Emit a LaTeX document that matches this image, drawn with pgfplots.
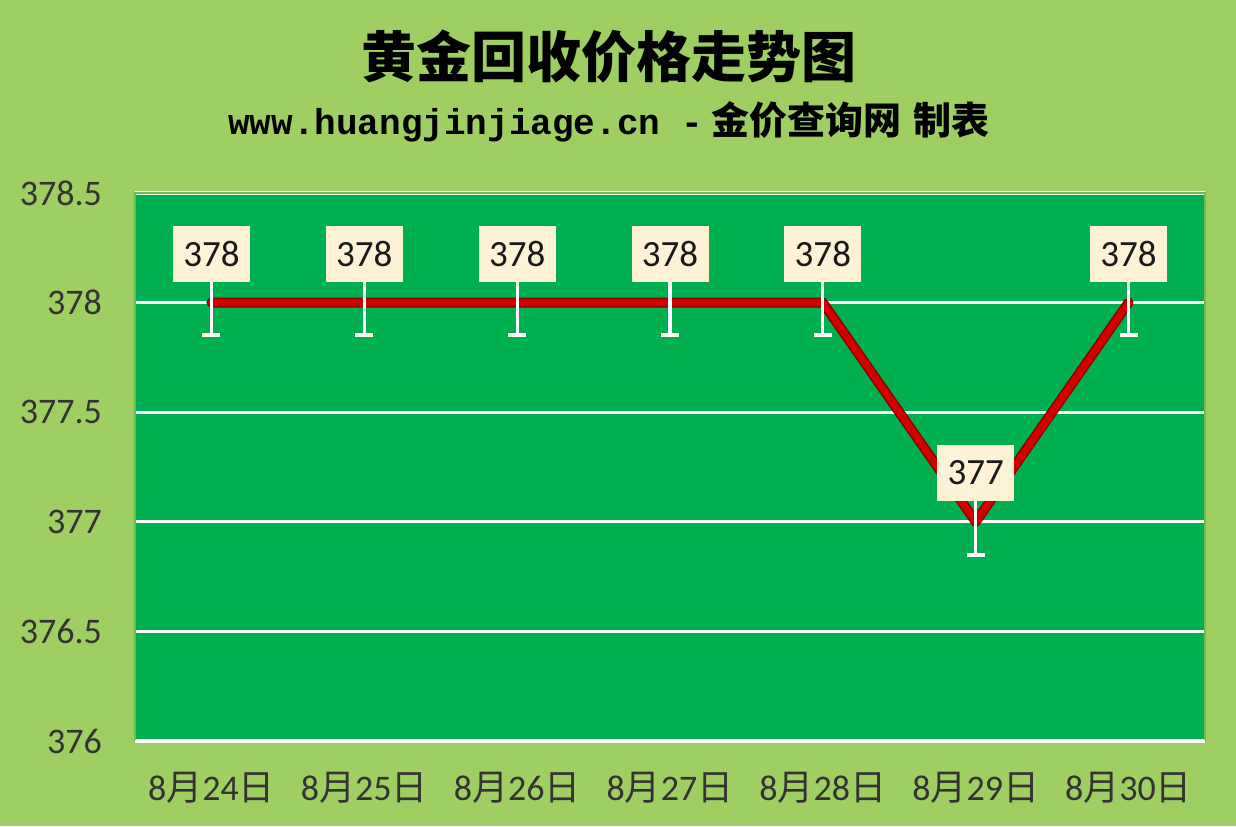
\documentclass[border=0pt]{standalone}
\usepackage{pgfplots}
\pgfplotsset{compat=1.18}
\usepackage{fontspec}
\setmainfont{Carlito}
\newfontfamily\cjk{Noto Sans CJK SC}
\newfontfamily\mono{Liberation Mono}
\definecolor{bgout}{HTML}{9FCF63}
\definecolor{plotbg}{HTML}{00B050}
\definecolor{plotborder}{HTML}{6CBF50}
\definecolor{lred}{HTML}{D40000}
\definecolor{dred}{HTML}{8E0000}
\definecolor{lab}{HTML}{FDF1D6}
\definecolor{ticktext}{HTML}{333333}
\begin{document}
\begin{tikzpicture}[x=1pt,y=1pt]
\fill[bgout] (0,0) rectangle (618,413);
\node at (304.5,384.5) {\cjk\bfseries\fontsize{27.5}{27.5}\selectfont 黄金回收价格走势图};
\node at (304.5,352) {{\mono\bfseries\fontsize{18}{18}\selectfont www.huangjinjiage.cn -}\hspace{4pt}{\cjk\bfseries\fontsize{19}{19}\selectfont 金价查询网\hspace{6pt}制表}};
\begin{axis}[
  at={(67.5pt,42.5pt)}, anchor=south west,
  scale only axis, width=535pt, height=274pt,
  clip=false,
  xmin=-0.5, xmax=6.5, ymin=376, ymax=378.5,
  ytick={376,376.5,377,377.5,378,378.5},
  yticklabels={376,376.5,377,377.5,378,378.5},
  xtick={0,1,2,3,4,5,6},
  xticklabels={{8{\cjk 月}24{\cjk 日}},{8{\cjk 月}25{\cjk 日}},{8{\cjk 月}26{\cjk 日}},{8{\cjk 月}27{\cjk 日}},{8{\cjk 月}28{\cjk 日}},{8{\cjk 月}29{\cjk 日}},{8{\cjk 月}30{\cjk 日}}},
  xtick style={draw=none}, ytick style={draw=none},
  extra x ticks={-0.5,0.5,1.5,2.5,3.5,4.5,5.5,6.5},
  extra x tick labels={},
  extra x tick style={grid=none, major tick length=5pt, tick align=outside, xtick pos=left, tick style={white, line width=1.2pt}},
  ymajorgrids,
  grid style={white, line width=1.6pt},
  axis background/.style={fill=plotbg},
  axis line style={draw=plotborder, line width=1.2pt},
  ticklabel style={font=\fontsize{18}{18}\selectfont, text=ticktext},
  yticklabel style={xshift=-13pt},
  xticklabel style={yshift=-12pt},
]
\addplot[dred, line width=5pt, line join=round, line cap=round] coordinates {(0,378) (1,378) (2,378) (3,378) (4,378) (5,377) (6,378)};
\addplot[lred, line width=3.4pt, line join=round, line cap=round] coordinates {(0,378) (1,378) (2,378) (3,378) (4,378) (5,377) (6,378)};
\addplot[white, mark=none, line width=0pt, draw opacity=0,
  error bars/.cd, y dir=both, y explicit, error mark=-,
  error bar style={draw=white, draw opacity=1, line width=1.6pt},
  error mark options={draw=white, draw opacity=1, line width=2pt, mark size=4.5pt, rotate=90}]
  coordinates {(0,378) +- (0,0.15) (1,378) +- (0,0.15) (2,378) +- (0,0.15) (3,378) +- (0,0.15) (4,378) +- (0,0.15) (5,377) +- (0,0.15) (6,378) +- (0,0.15)};
\addplot[draw=none, mark=none, nodes near coords, point meta=explicit symbolic,
  every node near coord/.append style={anchor=center, yshift=24.5pt, fill=lab, minimum width=38.5pt, minimum height=28pt, inner sep=0pt, text=black!90, font=\fontsize{18.5}{18.5}\selectfont}]
  coordinates {(0,378) [378] (1,378) [378] (2,378) [378] (3,378) [378] (4,378) [378] (5,377) [377] (6,378) [378]};
\draw[white, line width=1.5pt] (rel axis cs:0,0) -- (rel axis cs:1,0);
\end{axis}
\end{tikzpicture}
\end{document}
